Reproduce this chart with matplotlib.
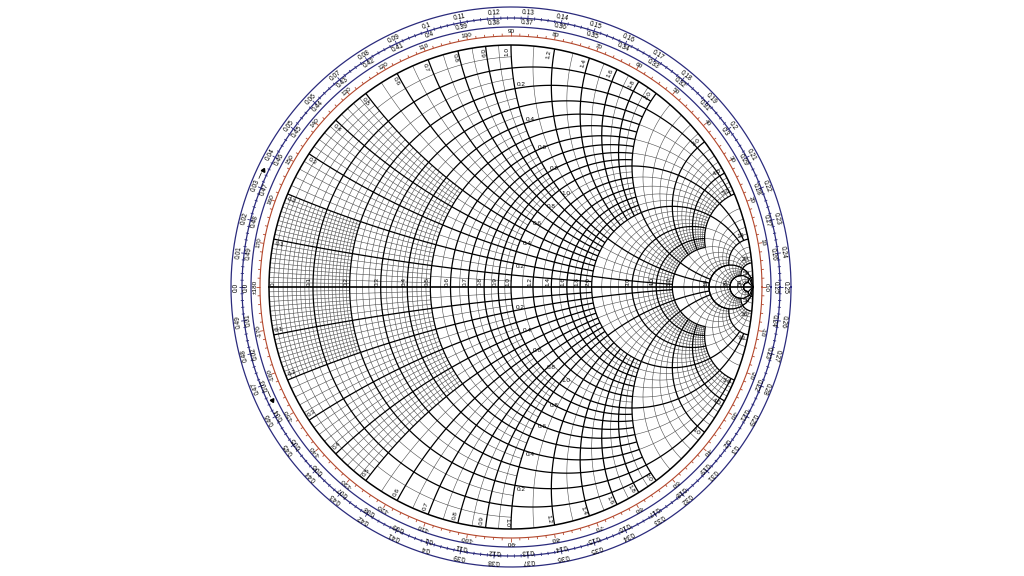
import numpy as np
import matplotlib
matplotlib.use("Agg")
import matplotlib.pyplot as plt
from matplotlib.collections import LineCollection

plt.rcParams['font.family'] = ['Liberation Sans', 'DejaVu Sans']

# grid zones: outer edge of each zone and the line step used inside it
zone_edges = [0.2, 0.5, 1.0, 2.0, 5.0, 10.0, 20.0, 50.0]
zone_steps = [0.01, 0.02, 0.05, 0.1, 0.2, 1.0, 2.0, 10.0]

# labelled (bold) resistance / reactance values
major_values = [0.1, 0.2, 0.3, 0.4, 0.5, 0.6, 0.7, 0.8, 0.9, 1.0,
                1.2, 1.4, 1.6, 1.8, 2.0, 3.0, 4.0, 5.0, 10.0, 20.0, 50.0]
major_labels = ['0.1', '0.2', '0.3', '0.4', '0.5', '0.6', '0.7', '0.8', '0.9', '1.0',
                '1.2', '1.4', '1.6', '1.8', '2.0', '3.0', '4.0', '5.0', '10', '20', '50']
# lines that stay bold further out
long_values = [0.2, 0.5, 1.0, 2.0]
# circles drawn complete
full_values = [10.0, 20.0, 50.0]

# reactance labels written along r = 1, resistance labels along x = +-1
r1_values = [0.2, 0.4, 0.6, 0.8, 1.0]
r1_labels = ['0.2', '0.4', '0.6', '0.8', '1.0']
x1_values = [0.2, 0.4, 0.6, 0.8]
x1_labels = ['0.2', '0.4', '0.6', '0.8']

# outer scales
wave_values = [i / 100 for i in range(50)]
degree_values = list(range(-170, 190, 10))

# colours
ink = 'black'
thin_ink = '#4a4a4a'
ring_blue = '#2b2b7c'
ring_red = '#b3472c'

fig = plt.figure(figsize=(10.24, 5.76), dpi=100)
ax = fig.add_axes([0, 0, 1, 1])
cx, cy, unit = 511, 287, 242.0
ax.set_xlim(-cx / unit, (1024 - cx) / unit)
ax.set_ylim(-(576 - cy) / unit, cy / unit)
ax.axis('off')
px = 1 / unit


def gamma(z):
    return (z - 1) / (z + 1)


def r_arc(r, x1, x2):
    t = np.linspace(np.arctan(x1), np.arctan(x2), 160)
    return gamma(r + 1j * np.tan(t))


def x_arc(x, r1, r2):
    t = np.linspace(np.arctan(r1), np.arctan(r2), 160)
    return gamma(np.tan(t) + 1j * x)


def seg(g):
    return np.column_stack([g.real, g.imag])


def in_list(v, vals):
    return any(abs(v - m) < 1e-9 for m in vals)


thin, bold = [], []
for i, (hi, s) in enumerate(zip(zone_edges, zone_steps)):
    lo = zone_edges[i - 1] if i else 0.0
    n = int(round(hi / s))
    for k in range(1, n + 1):
        v = k * s
        is_major = in_list(v, major_values)
        if v <= lo + 1e-9:
            keep = hi <= 2.0 or (hi <= 10.0 and in_list(v, long_values))
            target = bold if (is_major and keep) else thin
            target.append(seg(r_arc(v, lo, hi)))
            target.append(seg(r_arc(v, -hi, -lo)))
            target.append(seg(x_arc(v, lo, hi)))
            target.append(seg(x_arc(-v, lo, hi)))
        else:
            target = bold if is_major else thin
            target.append(seg(r_arc(v, -hi, hi)))
            target.append(seg(x_arc(v, 0, hi)))
            target.append(seg(x_arc(-v, 0, hi)))

for v in full_values:
    bold.append(seg(r_arc(v, -np.inf, np.inf)))

ax.add_collection(LineCollection(thin, colors=thin_ink, linewidths=0.4))
ax.add_collection(LineCollection(bold, colors=ink, linewidths=0.9))

# chart edge and real axis
th = np.linspace(0, 2 * np.pi, 720)
ax.plot(np.cos(th), np.sin(th), color=ink, lw=1.1)
ax.plot([-1, 1], [0, 0], color=ink, lw=1.2)

# outer rings
r_red, r_blue, r_tick, r_out = 251 / unit, 260 / unit, 269 / unit, 280 / unit
ax.plot(r_red * np.cos(th), r_red * np.sin(th), color=ring_red, lw=0.8)
for rr in (r_blue, r_tick, r_out):
    ax.plot(rr * np.cos(th), rr * np.sin(th), color=ring_blue, lw=0.9)

# wavelength ticks on the middle blue ring
ticks = []
for k in range(250):
    a = np.radians(180 - k * 0.002 * 720)
    h = 3 * px if k % 5 == 0 else 1.6 * px
    ticks.append([((r_tick - h) * np.cos(a), (r_tick - h) * np.sin(a)),
                  ((r_tick + h) * np.cos(a), (r_tick + h) * np.sin(a))])
ax.add_collection(LineCollection(ticks, colors=ring_blue, linewidths=0.6))

# degree ticks on the red ring
ticks = []
for d in range(0, 360, 2):
    a = np.radians(d)
    h = 4 * px if d % 10 == 0 else 2.5 * px
    ticks.append([(r_red * np.cos(a), r_red * np.sin(a)),
                  ((r_red + h) * np.cos(a), (r_red + h) * np.sin(a))])
ax.add_collection(LineCollection(ticks, colors=ring_red, linewidths=0.6))


def wave_text(v):
    if v == 0:
        return '0.0'
    return f'{v:.2f}'.rstrip('0')


def ring_text(theta, rad, s, size=4.8):
    a = np.radians(theta)
    ax.text(rad * np.cos(a), rad * np.sin(a), s, rotation=theta - 90,
            rotation_mode='anchor', ha='center', va='center',
            fontsize=size, color=ink)


for v in wave_values:
    ring_text(180 - v * 720, 274.5 / unit, wave_text(v))   # toward generator
    ring_text(180 + v * 720, 264.5 / unit, wave_text(v))   # toward load

for d in degree_values:
    s = '0.0' if d == 0 else ('\u00b1180' if d == 180 else str(d))
    ring_text(d, 255.6 / unit, s, 4.6)

# direction arrows
for theta, rad, sign in ((180 - 0.035 * 720, 274.5 / unit, -1),
                         (180 + 0.035 * 720, 264.5 / unit, 1)):
    a = np.radians(theta)
    b = np.linspace(a - sign * 9 * px / rad, a - sign * 3 * px / rad, 10)
    ax.plot(rad * np.cos(b), rad * np.sin(b), color=ink, lw=0.5)
    ax.plot(rad * np.cos(a), rad * np.sin(a), marker=(3, 0, theta + sign * 90 - 90),
            markersize=3.2, color=ink, lw=0)

# resistance labels on the real axis
for v, s in zip(major_values, major_labels):
    g = (v - 1) / (v + 1)
    ax.text(g - 1 * px, 1 * px, s, rotation=90, ha='right', va='bottom',
            fontsize=4.6, color=ink)
ax.text(-1 + 2 * px, 1 * px, '0', rotation=90, ha='left', va='bottom',
        fontsize=4.6, color=ink)

# reactance labels just inside the edge
for v, s in zip(major_values, major_labels):
    phi = 180 - 2 * np.degrees(np.arctan(v))
    rot = phi if phi <= 90 else phi - 180
    for sign in (1, -1):
        a = np.radians(sign * (phi + np.degrees(4.5 * px / 0.97)))
        rad = 1 - 6.5 * px
        ax.text(rad * np.cos(a), rad * np.sin(a), s, rotation=sign * rot,
                ha='center', va='center', fontsize=4.6, color=ink)

# reactance labels along r = 1
for v, s in zip(r1_values, r1_labels):
    for sign in (1, -1):
        g = gamma(1 + 1j * sign * v)
        ax.text(g.real + 2 * px, g.imag - sign * 3 * px, s, ha='left', va='center',
                fontsize=4.6, color=ink)

# resistance labels along x = +-1
for v, s in zip(x1_values, x1_labels):
    for sign in (1, -1):
        g = gamma(v + 1j * sign)
        ax.text(g.real + 2 * px, g.imag + sign * 4 * px, s, ha='left', va='center',
                fontsize=4.6, color=ink)

fig.savefig('out.png', dpi=100, facecolor='white')
